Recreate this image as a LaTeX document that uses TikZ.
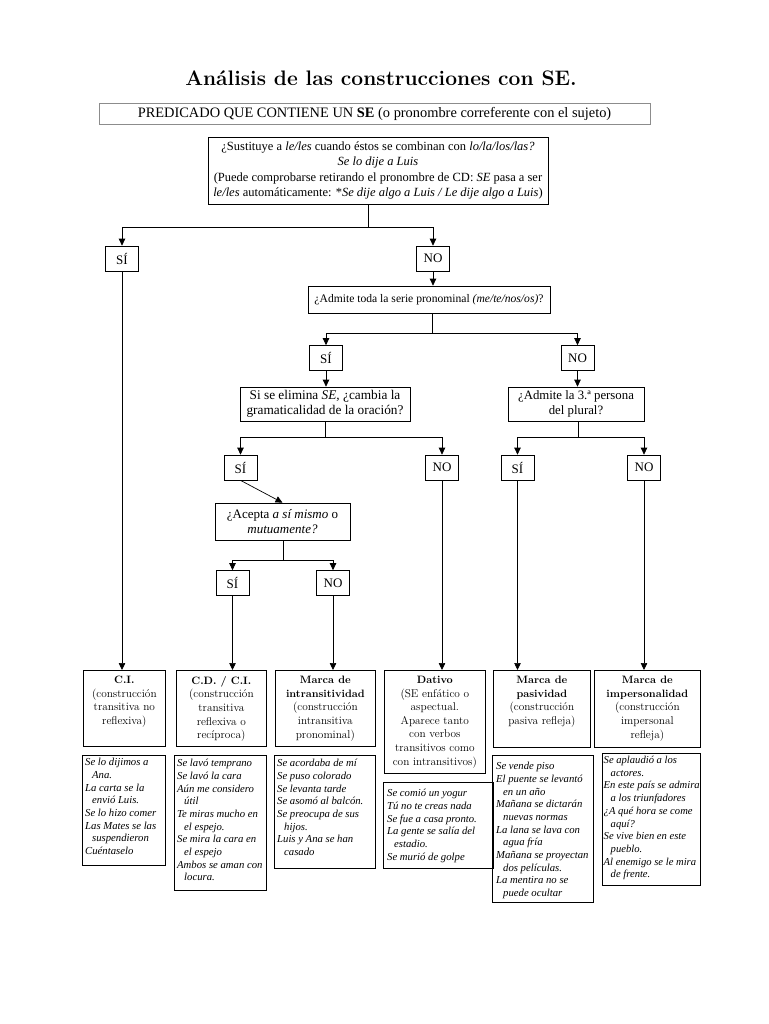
\documentclass[tikz,border=0pt]{standalone}
\usepackage{fontspec}
\newfontfamily\tms{Liberation Serif}
\usetikzlibrary{arrows.meta}
\tikzset{
  qbox/.style={draw, line width=0.7pt, align=center, inner sep=1pt},
  yn/.style={draw, line width=0.7pt, minimum width=33pt, minimum height=25pt, inner sep=0pt, font=\tms\fontsize{13}{15}\selectfont},
  frame/.style={draw, line width=0.7pt, anchor=north west, inner sep=0pt},
  cattext/.style={align=center, inner sep=0pt, anchor=north, font=\fontsize{11.3}{13.6}\selectfont},
  extext/.style={align=left, inner sep=0pt, anchor=north west, font=\tms\itshape\fontsize{10.7}{12.7}\selectfont},
  arr/.style={-{Triangle[length=7pt,width=6.5pt]}, line width=0.7pt},
  ln/.style={line width=0.7pt}
}
\newcommand{\bt}[1]{{\fontsize{10.7}{13.6}\selectfont\bfseries #1}}
\newcommand{\ind}{\hspace*{7pt}}
\begin{document}
\begin{tikzpicture}[x=1pt,y=-1pt]
\fill[white] (0,0) rectangle (768,1024);
\useasboundingbox (0,0) rectangle (768,1024);

\node (title) at (381,78) {\fontsize{21}{24}\selectfont\bfseries Análisis de las construcciones con SE.};

\node[draw=black!45, line width=0.6pt, minimum width=551pt, minimum height=21pt, inner sep=0pt, font=\tms\fontsize{14.4}{16}\selectfont] (head) at (374.5,113.5)
  {PREDICADO QUE CONTIENE UN \textbf{SE} (o pronombre correferente con el sujeto)};

\node[qbox, minimum width=340pt, minimum height=67pt, font=\tms\fontsize{12.5}{15.5}\selectfont] (q1) at (378,170.5)
  {¿Sustituye a \textit{le/les} cuando éstos se combinan con \textit{lo/la/los/las?}\\
   \textit{Se lo dije a Luis}\\
   (Puede comprobarse retirando el pronombre de CD: \textit{SE} pasa a ser\\
   \textit{le/les} automáticamente: *\textit{Se dije algo a Luis / Le dije algo a Luis})};

\node[yn] (si1) at (122,258.5) {SÍ};
\node[yn] (no1) at (433,258.5) {NO};

\node[qbox, minimum width=242pt, minimum height=27pt, font=\tms\fontsize{11.6}{14}\selectfont] (q2) at (429,299.5)
  {¿Admite toda la serie pronominal \textit{(me/te/nos/os)}?};

\node[yn] (si2) at (326,358) {SÍ};
\node[yn] (no2) at (577.5,358) {NO};

\node[qbox, minimum width=170pt, minimum height=34pt, font=\tms\fontsize{13.3}{14.5}\selectfont] (q3) at (325,404)
  {Si se elimina \textit{SE,} ¿cambia la\\gramaticalidad de la oración?};
\node[qbox, minimum width=136pt, minimum height=34pt, font=\tms\fontsize{12.8}{14.5}\selectfont] (q4) at (576,404)
  {¿Admite la 3.ª persona\\del plural?};

\node[yn] (si3) at (240.5,467.5) {SÍ};
\node[yn] (no3) at (442,467.5) {NO};
\node[yn] (si4) at (517.5,467.5) {SÍ};
\node[yn] (no4) at (644,467.5) {NO};

\node[qbox, minimum width=135pt, minimum height=37pt, font=\tms\fontsize{13}{15}\selectfont] (q5) at (282.5,521.5)
  {¿Acepta \textit{a sí mismo} o\\\textit{mutuamente?}};

\node[yn] (si5) at (232.5,583) {SÍ};
\node[yn] (no5) at (333,583) {NO};

% category boxes
\node[frame, minimum width=82pt, minimum height=76pt] (ci) at (83,670) {};
\node[cattext] (cit) at (ci.north) [yshift=-6pt] {\bt{C.I.}\\(construcción\\transitiva no\\reflexiva)};
\node[frame, minimum width=90pt, minimum height=76pt] (cdci) at (176,670) {};
\node[cattext] (cdcit) at (cdci.north) [yshift=-6pt] {\bt{C.D. / C.I.}\\(construcción\\transitiva\\reflexiva o\\recíproca)};
\node[frame, minimum width=100pt, minimum height=76pt] (mi) at (275,670) {};
\node[cattext] (mit) at (mi.north) [yshift=-6pt] {\bt{Marca de}\\\bt{intransitividad}\\(construcción\\intransitiva\\pronominal)};
\node[frame, minimum width=101pt, minimum height=103pt] (dat) at (384,670) {};
\node[cattext] (datt) at (dat.north) [yshift=-6pt] {\bt{Dativo}\\(SE enfático o\\aspectual.\\Aparece tanto\\con verbos\\transitivos como\\con intransitivos)};
\node[frame, minimum width=97pt, minimum height=77pt] (pas) at (493,670) {};
\node[cattext] (past) at (pas.north) [yshift=-6pt] {\bt{Marca de}\\\bt{pasividad}\\(construcción\\pasiva refleja)};
\node[frame, minimum width=106pt, minimum height=77pt] (imp) at (594,670) {};
\node[cattext] (impt) at (imp.north) [yshift=-6pt] {\bt{Marca de}\\\bt{impersonalidad}\\(construcción\\impersonal\\refleja)};

% example boxes
\node[frame, minimum width=83pt, minimum height=110pt] (e1) at (82,755) {};
\node[extext] (e1t) at (e1.north west) [xshift=3pt, yshift=-3pt]
  {Se lo dijimos a\\\ind Ana.\\La carta se la\\\ind envió Luis.\\Se lo hizo comer\\Las Mates se las\\\ind suspendieron\\Cuéntaselo};
\node[frame, minimum width=92pt, minimum height=135pt] (e2) at (174,755) {};
\node[extext] (e2t) at (e2.north west) [xshift=3pt, yshift=-4pt]
  {Se lavó temprano\\Se lavó la cara\\Aún me considero\\\ind útil\\Te miras mucho en\\\ind el espejo.\\Se mira la cara en\\\ind el espejo\\Ambos se aman con\\\ind locura.};
\node[frame, minimum width=101pt, minimum height=113pt] (e3) at (274,755) {};
\node[extext] (e3t) at (e3.north west) [xshift=3pt, yshift=-4pt]
  {Se acordaba de mí\\Se puso colorado\\Se levanta tarde\\Se asomó al balcón.\\Se preocupa de sus\\\ind hijos.\\Luis y Ana se han\\\ind casado};
\node[frame, minimum width=110pt, minimum height=86pt] (e4) at (383,782) {};
\node[extext] (e4t) at (e4.north west) [xshift=4pt, yshift=-7pt]
  {Se comió un yogur\\Tú no te creas nada\\Se fue a casa pronto.\\La gente se salía del\\\ind estadio.\\Se murió de golpe};
\node[frame, minimum width=101pt, minimum height=147pt] (e5) at (492,755) {};
\node[extext] (e5t) at (e5.north west) [xshift=4pt, yshift=-7pt]
  {Se vende piso\\El puente se levantó\\\ind en un año\\Mañana se dictarán\\\ind nuevas normas\\La lana se lava con\\\ind agua fría\\Mañana se proyectan\\\ind dos películas.\\La mentira no se\\\ind puede ocultar};
\node[frame, minimum width=98pt, minimum height=132pt] (e6) at (602,753) {};
\node[extext, font=\tms\itshape\fontsize{10.6}{12.7}\selectfont] (e6t) at (e6.north west) [xshift=1.5pt, yshift=-3pt]
  {Se aplaudió a los\\\ind actores.\\En este país se admira\\\ind a los triunfadores\\¿A qué hora se come\\\ind aquí?\\Se vive bien en este\\\ind pueblo.\\Al enemigo se le mira\\\ind de frente.};

% connectors
\coordinate (j1) at (368,227);
\draw[ln] (q1.south -| j1) -- (j1);
\draw[arr] (j1) -| (si1.north);
\draw[arr] (j1) -| (no1.north);
\draw[arr] (no1.south) -- (no1.south |- q2.north);

\coordinate (j2) at (432,333);
\draw[ln] (q2.south -| j2) -- (j2);
\draw[arr] (j2) -| (si2.north);
\draw[arr] (j2) -| (no2.north);
\draw[arr] (si2.south) -- (si2.south |- q3.north);
\draw[arr] (no2.south) -- (no2.south |- q4.north);

\coordinate (j3) at (325,437);
\draw[ln] (q3.south -| j3) -- (j3);
\draw[arr] (j3) -| (si3.north);
\draw[arr] (j3) -| (no3.north);
\coordinate (j4) at (578,437);
\draw[ln] (q4.south -| j4) -- (j4);
\draw[arr] (j4) -| (si4.north);
\draw[arr] (j4) -| (no4.north);

\draw[arr] (si3.south) -- (q5.north);
\coordinate (j5) at (283,560);
\draw[ln] (q5.south -| j5) -- (j5);
\draw[arr] (j5) -| (si5.north);
\draw[arr] (j5) -| (no5.north);

\draw[arr] (si1.south) -- (si1.south |- ci.north);
\draw[arr] (si5.south) -- (si5.south |- cdci.north);
\draw[arr] (no5.south) -- (no5.south |- mi.north);
\draw[arr] (no3.south) -- (no3.south |- dat.north);
\draw[arr] (si4.south) -- (si4.south |- pas.north);
\draw[arr] (no4.south) -- (no4.south |- imp.north);
\end{tikzpicture}
\end{document}
